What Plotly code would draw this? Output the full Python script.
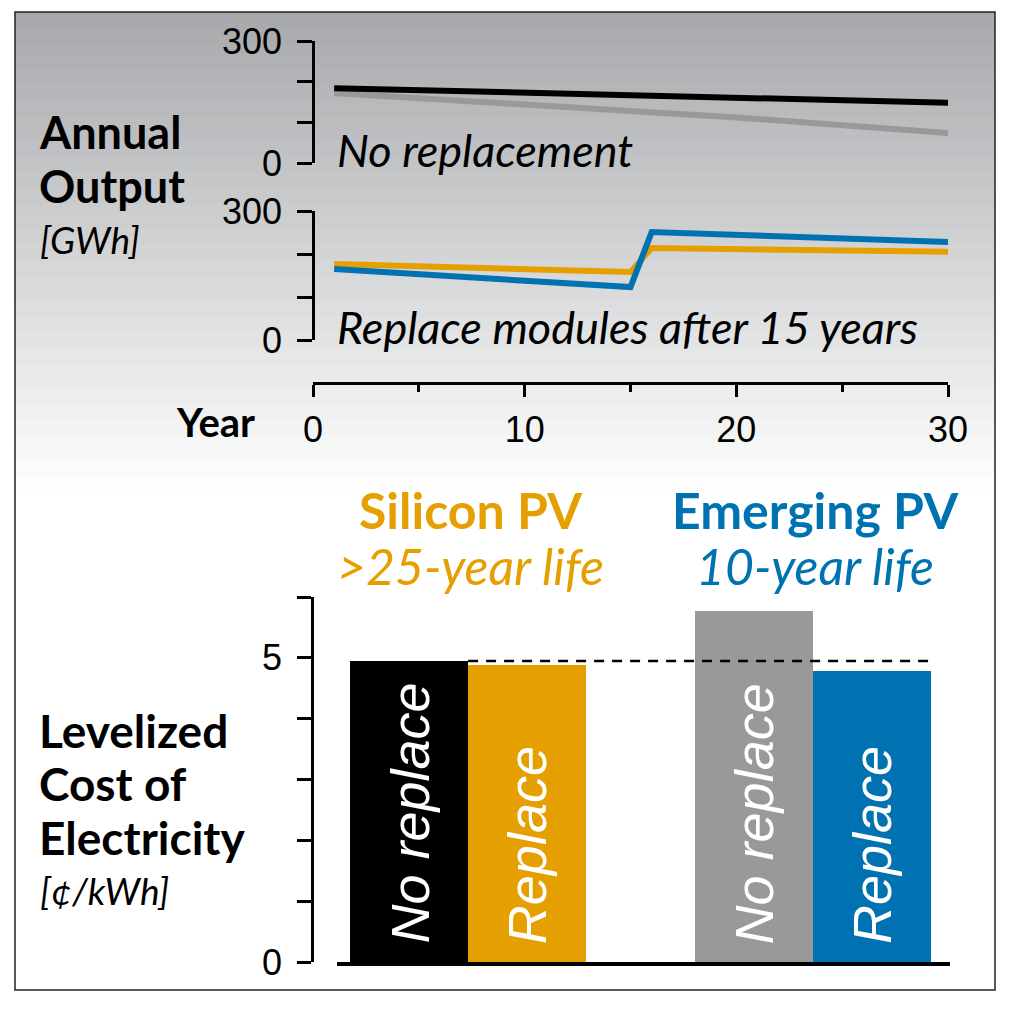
import plotly.graph_objects as go

# ---------------- data ----------------
years_norep = [1, 10, 20, 30]
silicon_norep = [184, 172, 160, 148]
emerging_norep = [172, 145, 112, 74]

years_rep = [1, 15, 16, 30]
silicon_rep = [177, 158, 214, 205]
emerging_rep = [165, 123, 251, 228]

bar_labels = ["No replace", "Replace", "No replace", "Replace"]
bar_values = [4.95, 4.88, 5.77, 4.79]
bar_colors = ["#000000", "#E69F00", "#999999", "#0072B2"]
group_titles = ["Silicon PV", "Emerging PV"]
group_subtitles = [">25-year life", "10-year life"]
group_colors = ["#E69F00", "#0072B2"]

W, H = 1010, 1012
def px(x):
    return x / W
def py(y):
    return 1 - y / H

MAIN = "Lato, 'Open Sans', sans-serif"
NUM = "'Liberation Sans', Arial, sans-serif"

fig = go.Figure()

# top panels
fig.add_trace(go.Scatter(x=years_norep, y=emerging_norep, mode="lines",
                         line=dict(color="#999999", width=6), xaxis="x", yaxis="y"))
fig.add_trace(go.Scatter(x=years_norep, y=silicon_norep, mode="lines",
                         line=dict(color="#000000", width=6), xaxis="x", yaxis="y"))
fig.add_trace(go.Scatter(x=years_rep, y=silicon_rep, mode="lines",
                         line=dict(color="#E69F00", width=6), xaxis="x", yaxis="y2"))
fig.add_trace(go.Scatter(x=years_rep, y=emerging_rep, mode="lines",
                         line=dict(color="#0072B2", width=6), xaxis="x", yaxis="y2"))

# bars
bar_x = []
for i in range(len(bar_values)):
    g = i // 2
    bar_x.append(g * 2.92 + (i % 2))
fig.add_trace(go.Bar(x=bar_x, y=bar_values, width=1.0,
                     marker=dict(color=bar_colors, line=dict(width=0)),
                     xaxis="x3", yaxis="y3"))

axis_common = dict(showgrid=False, zeroline=False, linecolor="black",
                   tickcolor="black", fixedrange=True, automargin=False)

fig.update_layout(
    width=W, height=H, autosize=False,
    margin=dict(l=0, r=0, t=0, b=0, pad=0),
    paper_bgcolor="white", plot_bgcolor="rgba(0,0,0,0)",
    showlegend=False,
    xaxis=dict(domain=[px(313), px(948)], range=[0, 30], anchor="free",
               position=py(383), side="bottom",
               showline=True, linewidth=2.5, ticks="outside", ticklen=12, tickwidth=2.5,
               tickvals=[0, 10, 20, 30], ticktext=["0", "10", "20", "30"],
               minor=dict(ticks="outside", ticklen=7, tickwidth=2.5, tickvals=[5, 15, 25],
                          tickcolor="black"),
               tickfont=dict(family=NUM, size=36, color="black"),
               ticklabelstandoff=2,
               **axis_common),
    yaxis=dict(domain=[py(163), py(41)], range=[0, 300], anchor="free", position=px(313),
               showline=True, linewidth=2.5, ticks="outside", ticklen=15, tickwidth=2.5,
               tickvals=[0, 100, 200, 300], ticktext=["0", "", "", "300"],
               tickfont=dict(family=NUM, size=36, color="black"),
               ticklabelstandoff=8,
               **axis_common),
    yaxis2=dict(domain=[py(340), py(211)], range=[0, 300], anchor="free", position=px(313),
                showline=True, linewidth=2.5, ticks="outside", ticklen=15, tickwidth=2.5,
                tickvals=[0, 100, 200, 300], ticktext=["0", "", "", "300"],
                tickfont=dict(family=NUM, size=36, color="black"),
                ticklabelstandoff=8,
                **axis_common),
    xaxis3=dict(domain=[px(337), px(950)], range=[-0.61, 4.58], anchor="y3",
                showline=True, linewidth=3.5, ticks="", showticklabels=False,
                **axis_common),
    yaxis3=dict(domain=[py(962), py(597)], range=[0, 6], anchor="free", position=px(312),
                showline=True, linewidth=2.5, ticks="outside", ticklen=14, tickwidth=2.5,
                tickvals=[0, 1, 2, 3, 4, 5, 6], ticktext=["0", "", "", "", "", "5", ""],
                tickfont=dict(family=NUM, size=36, color="black"),
                ticklabelstandoff=8,
                **axis_common),
    bargap=0,
)

# gradient background (top half) and frame
shapes = []
top, bot = 12, 492
n = 60
c0 = (166, 168, 171)
for k in range(n):
    y0 = top + (bot - top) * k / n
    y1 = top + (bot - top) * (k + 1) / n + 0.6
    t = (k + 0.5) / n
    c = tuple(int(round(c0[j] + (255 - c0[j]) * t)) for j in range(3))
    shapes.append(dict(type="rect", xref="paper", yref="paper",
                       x0=px(15), x1=px(995), y0=py(y1), y1=py(y0),
                       fillcolor="rgb(%d,%d,%d)" % c, line=dict(width=0), layer="below"))
shapes.append(dict(type="rect", xref="paper", yref="paper",
                   x0=px(15), x1=px(995), y0=py(990), y1=py(12),
                   line=dict(color="#222222", width=1.5), fillcolor="rgba(0,0,0,0)",
                   layer="above"))
# dashed reference line at the silicon no-replace cost
shapes.append(dict(type="line", xref="x3", yref="y3",
                   x0=bar_x[0] + 0.5, x1=bar_x[-1] + 0.5,
                   y0=bar_values[0], y1=bar_values[0],
                   line=dict(color="black", width=2.5, dash="10px,8px"), layer="above"))
fig.update_layout(shapes=shapes)

ann = []
def txt(text, x, y, size, bold=False, italic=False, color="black", xanchor="left",
        family=MAIN):
    ann.append(dict(text=text, x=px(x), y=py(y), xref="paper", yref="paper",
                    xanchor=xanchor, yanchor="middle", showarrow=False,
                    font=dict(family=family, size=size, color=color,
                              weight="bold" if bold else "normal",
                              style="italic" if italic else "normal")))

txt("Annual", 37, 132, 45, bold=True)
txt("Output", 37, 186, 45, bold=True)
txt("[GWh]", 38, 240, 37, italic=True)
txt("No replacement", 335, 150, 45, italic=True)
txt("Replace modules after 15 years", 335, 327, 45, italic=True)
txt("Year", 257, 422, 40, bold=True, xanchor="right")

for g in range(2):
    cx = (bar_x[2 * g] + bar_x[2 * g + 1]) / 2
    cxp = 337 + (cx + 0.61) / (4.58 + 0.61) * (950 - 337)
    txt(group_titles[g], cxp + 2, 510, 50, bold=True, color=group_colors[g], xanchor="center")
    txt(group_subtitles[g], cxp + 2, 566, 50, italic=True, color=group_colors[g], xanchor="center")

txt("Levelized", 37, 730, 46, bold=True)
txt("Cost of", 37, 783, 46, bold=True)
txt("Electricity", 37, 837, 46, bold=True)
txt("[¢/kWh]", 38, 890, 37, italic=True)

for i, lab in enumerate(bar_labels):
    ann.append(dict(text=lab, x=bar_x[i], y=0, xref="x3", yref="y3",
                    xanchor="center", yanchor="bottom", yshift=16, textangle=-90,
                    showarrow=False,
                    font=dict(family="'Liberation Sans', Arial, sans-serif", size=54,
                              color="white", style="italic")))

fig.update_layout(annotations=ann)

fig.write_html("out.html")
